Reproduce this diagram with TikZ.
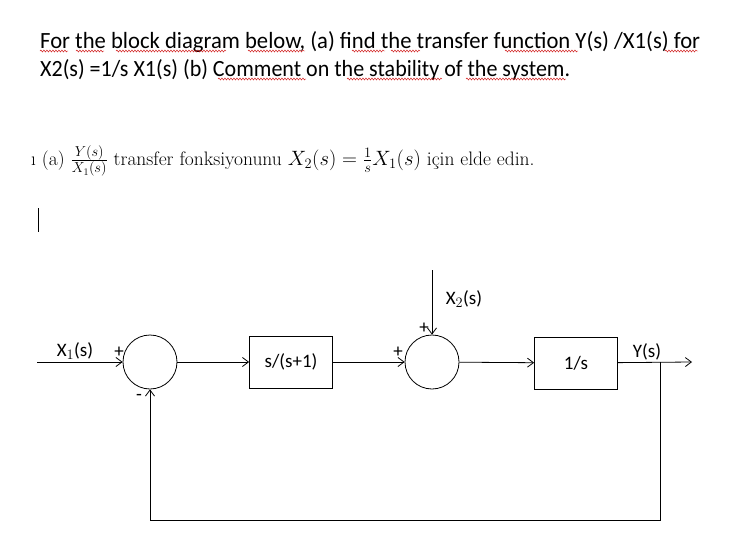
\documentclass[tikz,border=0pt]{standalone}
\usepackage{fontspec}
\newfontfamily\carfont{Carlito}
\usetikzlibrary{arrows.meta,decorations.pathmorphing}
\begin{document}
\begin{tikzpicture}[x=1pt,y=-1pt,
  sumnode/.style={circle,draw,thick,minimum size=54pt,inner sep=0},
  blk/.style={draw,thick,minimum width=83pt,minimum height=52pt,font=\carfont\fontsize{19}{21}\selectfont},
  lbl/.style={font=\carfont\fontsize{19}{21}\selectfont,inner sep=0},
  sig/.style={thick,-{Straight Barb[length=6pt,width=9pt]}},
  wavy/.style={red!80!black,decorate,decoration={snake,amplitude=1pt,segment length=3pt}},
  every node/.style={text=black}]
\useasboundingbox[fill=white] (0,0) rectangle (745,541);
\node[anchor=west,font=\carfont\fontsize{19}{21}\selectfont,inner sep=0] (t1) at (40,42) {\resizebox{660pt}{17pt}{For the block diagram below, (a) find the transfer function Y(s) /X1(s) for}};
\node[anchor=west,font=\carfont\fontsize{19}{21}\selectfont,inner sep=0] (t2) at (40,70) {\resizebox{530pt}{17pt}{X2(s) =1/s X1(s) (b) Comment on the stability of the system.}};
\foreach \a/\b in {40/68,76/104,116/226,248/305,352/385,391/420,505/578,665/698}
  \draw[wavy] (\a,51) -- (\b,51);
\foreach \a/\b in {218/306,347/442,466/566}
  \draw[wavy] (\a,79) -- (\b,79);
\node[anchor=west,font=\fontsize{19.5}{21}\selectfont,inner sep=0] (t3) at (31,161) {\i\ (a) $\frac{Y(s)}{X_1(s)}$ transfer fonksiyonunu $X_2(s)=\frac{1}{s}X_1(s)$ için elde edin.};
\draw[thin] (38,208) -- (38,232);
\node[sumnode] (s1) at (150,362) {};
\node[blk] (g1) at (291,362) {s/(s+1)};
\node[sumnode] (s2) at (432,362) {};
\node[blk] (g2) at (576,363) {1/s};
\coordinate (in) at (37,362);
\coordinate (x2) at (432,270);
\coordinate (br) at (660,362);
\coordinate (out) at (692,362);
\coordinate (c1) at (660,520);
\coordinate (c2) at (150,520);
\draw[sig] (in) -- (s1);
\draw[sig] (s1) -- (g1);
\draw[sig] (g1) -- (s2);
\draw[sig] (s2) -- (g2);
\draw[sig] (g2) -- (out);
\draw[sig] (x2) -- (s2);
\draw[sig] (br) -- (c1) -- (c2) -- (s1);
\node[lbl] (lx1) at (75,351) {X$_1$(s)};
\node[lbl] (p1) at (119,352) {+};
\node[lbl] (m1) at (139,397) {-};
\node[lbl] (lx2) at (464,299) {X$_2$(s)};
\node[lbl] (p2) at (424,328) {+};
\node[lbl] (p3) at (398,352) {+};
\node[lbl] (ly) at (647,352) {Y(s)};
\end{tikzpicture}
\end{document}
